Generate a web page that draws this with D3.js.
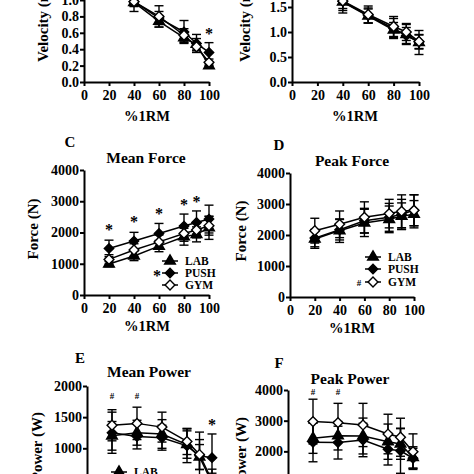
<!DOCTYPE html>
<html>
<head>
<meta charset="utf-8">
<script src="https://d3js.org/d3.v7.min.js"></script>
<style>
  body { margin: 0; background: #fff; }
  svg { display: block; font-family: "Liberation Serif", "Times New Roman", serif; font-weight: bold; }
</style>
</head>
<body>
<svg id="chart" width="474" height="474"></svg>
<script>
// loads (%1RM)
var load5 = [40, 60, 80, 90, 100];
var load6 = [20, 40, 60, 80, 90, 100];
var xTicks = [0, 20, 40, 60, 80, 100];
var groups = ["LAB", "PUSH", "GYM"];

// A - mean velocity (m/s)
var aLab = [0.97, 0.74, 0.54, 0.46, 0.20], aLabSd = [0.11, 0.07, 0.06, 0.07, 0.02];
var aPush = [0.98, 0.78, 0.61, 0.47, 0.36], aPushSd = [0.05, 0.08, 0.14, 0.11, 0.12];
var aGym = [0.98, 0.80, 0.57, 0.43, 0.24], aGymSd = [0.06, 0.13, 0.08, 0.05, 0.04];
var aTicks = [0, 0.2, 0.4, 0.6, 0.8, 1.0, 1.2];

// B - peak velocity (m/s)
var bLab = [1.60, 1.32, 1.04, 0.95, 0.79], bLabSd = [0.22, 0.14, 0.15, 0.20, 0.24];
var bPush = [1.61, 1.33, 1.07, 0.93, 0.80], bPushSd = [0.18, 0.15, 0.20, 0.16, 0.14];
var bGym = [1.62, 1.35, 1.11, 1.00, 0.81], bGymSd = [0.15, 0.17, 0.20, 0.17, 0.14];
var bTicks = [0, 0.5, 1.0, 1.5, 2.0];

// C - mean force (N)
var cLab = [990, 1250, 1565, 1865, 1940, 2150], cLabSd = [80, 150, 180, 270, 240, 370];
var cPush = [1490, 1725, 1970, 2205, 2320, 2430], cPushSd = [265, 280, 320, 385, 370, 445];
var cGym = [1140, 1440, 1700, 1970, 2080, 2215], cGymSd = [150, 200, 220, 250, 250, 300];

// D - peak force (N)
var dLab = [1870, 2140, 2390, 2505, 2605, 2670], dLabSd = [300, 380, 440, 430, 430, 440];
var dPush = [1900, 2170, 2460, 2570, 2670, 2800], dPushSd = [280, 330, 400, 450, 480, 500];
var dGym = [2140, 2345, 2570, 2690, 2765, 2795], dGymSd = [400, 430, 500, 460, 530, 500];
var forceTicks = [0, 1000, 2000, 3000, 4000];

// E - mean power (W)
var eLab = [1200, 1250, 1230, 1060, 860, 450], eLabSd = [230, 200, 230, 220, 200, 150];
var ePush = [1250, 1190, 1170, 1040, 880, 850], ePushSd = [330, 200, 200, 270, 380, 380];
var eGym = [1370, 1400, 1340, 1110, 900, 480], eGymSd = [250, 260, 240, 210, 240, 185];
var eTicks = [0, 500, 1000, 1500, 2000];

// F - peak power (W)
var fLab = [2425, 2510, 2500, 2315, 2240, 1800], fLabSd = [490, 465, 585, 575, 500, 350];
var fPush = [2295, 2285, 2370, 2070, 2020, 1775], fPushSd = [635, 535, 545, 515, 735, 325];
var fGym = [2970, 2935, 2860, 2565, 2460, 1990], fGymSd = [730, 630, 705, 645, 620, 580];
var fTicks = [0, 1000, 2000, 3000, 4000];

// significance marks: [load, value]
var aStars = [[100, 0.61]];
var cStars = [[20, 2160], [40, 2420], [60, 2680], [80, 2950], [90, 3060]];
var eStars = [[100, 1420]];
var eHash = [[20, 1855], [40, 1855]];
var fHash = [[20, 3960], [40, 3960]];

var svg = d3.select("#chart");

var panels = [
  {load: load5, s: [[aLab, aLabSd], [aPush, aPushSd], [aGym, aGymSd]], ticks: aTicks, fmt: d3.format(".1f"),
   xr: [84, 209], yr: [82, -16.4], ylab: "Velocity (m/s)", ylx: 43, lab0: 62, labAnchor: "start",
   xlab: [147, 121], stars: aStars},
  {load: load5, s: [[bLab, bLabSd], [bPush, bPushSd], [bGym, bGymSd]], ticks: bTicks, fmt: d3.format(".1f"),
   xr: [292, 419], yr: [82, -18], ylab: "Velocity (m/s)", ylx: 245, lab0: 62, labAnchor: "start",
   xlab: [355, 121]},
  {load: load6, s: [[cLab, cLabSd], [cPush, cPushSd], [cGym, cGymSd]], ticks: forceTicks, fmt: d3.format("d"),
   xr: [84, 209], yr: [295, 170], ylab: "Force (N)", ylx: 33, lab0: 229, labAnchor: "middle",
   xlab: [147, 331], letter: ["C", 70, 147], title: ["Mean Force", 146, 163], stars: cStars,
   legend: {x: 170, y: [261, 273, 285], mark: ["", "*", ""]}},
  {load: load6, s: [[dLab, dLabSd], [dPush, dPushSd], [dGym, dGymSd]], ticks: forceTicks, fmt: d3.format("d"),
   xr: [290, 414], yr: [297, 173], ylab: "Force (N)", ylx: 241, lab0: 231, labAnchor: "middle",
   xlab: [352, 333], letter: ["D", 279, 150], title: ["Peak Force", 352, 166],
   legend: {x: 373, y: [257, 269, 282], mark: ["", "", "#"]}},
  {load: load6, s: [[eLab, eLabSd], [ePush, ePushSd], [eGym, eGymSd]], ticks: eTicks, fmt: d3.format("d"),
   xr: [87, 212], yr: [510.6, 386], ylab: "Power (W)", ylx: 37, lab0: 412, labAnchor: "end",
   letter: ["E", 80, 363], title: ["Mean Power", 149, 377], stars: eStars, hash: eHash,
   legend: {x: 119, y: [472, 484, 496], mark: ["", "", ""]}},
  {load: load6, s: [[fLab, fLabSd], [fPush, fPushSd], [fGym, fGymSd]], ticks: fTicks, fmt: d3.format("d"),
   xr: [288, 413], yr: [512.7, 390], ylab: "Power (W)", ylx: 241, lab0: 417, labAnchor: "end",
   letter: ["F", 279, 368], title: ["Peak Power", 350, 384], hash: fHash}
];

var shapes = [
  {type: d3.symbolTriangle, size: 50, fill: "#000", rot: 0},
  {type: d3.symbolSquare, size: 44, fill: "#000", rot: 45},
  {type: d3.symbolSquare, size: 48, fill: "#fff", rot: 45}
];

function marker(sel, k) {
  sel.attr("d", d3.symbol().type(shapes[k].type).size(shapes[k].size)())
     .attr("fill", shapes[k].fill)
     .attr("stroke", "#000")
     .attr("stroke-width", 1.4);
}

panels.forEach(function(p) {
  var x = d3.scaleLinear().domain([0, 100]).range(p.xr);
  var y = d3.scaleLinear().domain([0, p.ticks[p.ticks.length - 1]]).range(p.yr);
  var g = svg.append("g");

  var ya = g.append("g").attr("transform", "translate(" + x(0) + ",0)")
    .call(d3.axisLeft(y).tickValues(p.ticks).tickFormat(p.fmt).tickSize(4).tickPadding(1).tickSizeOuter(0));
  var xa = g.append("g").attr("transform", "translate(0," + y(0) + ")")
    .call(d3.axisBottom(x).tickValues(xTicks).tickSize(4).tickPadding(4).tickSizeOuter(0));
  [ya, xa].forEach(function(a) {
    a.attr("font-family", null).attr("font-size", 14);
    a.select(".domain").attr("stroke-width", 2);
    a.selectAll(".tick line").attr("stroke-width", 2);
    a.selectAll(".tick text").attr("fill", "#000");
  });

  // axis titles
  g.append("text")
    .attr("transform", "translate(" + p.ylx + "," + p.lab0 + ") rotate(-90)")
    .attr("dy", "0.35em")
    .attr("text-anchor", p.labAnchor)
    .attr("font-size", 15)
    .text(p.ylab);
  if (p.xlab) {
    g.append("text").attr("x", p.xlab[0]).attr("y", p.xlab[1])
      .attr("text-anchor", "middle").attr("font-size", 14.5).text("%1RM");
  }
  if (p.letter) {
    g.append("text").attr("x", p.letter[1]).attr("y", p.letter[2])
      .attr("text-anchor", "middle").attr("font-size", 15).text(p.letter[0]);
  }
  if (p.title) {
    g.append("text").attr("x", p.title[1]).attr("y", p.title[2])
      .attr("text-anchor", "middle").attr("font-size", 15.5).text(p.title[0]);
  }

  var series = p.s.map(function(s, k) {
    return s[0].map(function(m, i) { return {load: p.load[i], m: m, sd: s[1][i], k: k}; });
  });

  // error bars
  series.forEach(function(pts) {
    var eb = g.append("g").attr("stroke", "#000").attr("stroke-width", 1.4);
    eb.selectAll(".v").data(pts).enter().append("line")
      .attr("x1", function(d) { return x(d.load); }).attr("x2", function(d) { return x(d.load); })
      .attr("y1", function(d) { return y(d.m - d.sd); }).attr("y2", function(d) { return y(d.m + d.sd); });
    [-1, 1].forEach(function(sg) {
      eb.selectAll(".c" + sg).data(pts).enter().append("line")
        .attr("x1", function(d) { return x(d.load) - 4.5; }).attr("x2", function(d) { return x(d.load) + 4.5; })
        .attr("y1", function(d) { return y(d.m + sg * d.sd); }).attr("y2", function(d) { return y(d.m + sg * d.sd); });
    });
  });

  // mean lines
  var line = d3.line().x(function(d) { return x(d.load); }).y(function(d) { return y(d.m); });
  series.forEach(function(pts) {
    g.append("path").datum(pts).attr("d", line)
      .attr("fill", "none").attr("stroke", "#000").attr("stroke-width", 1.5);
  });

  // markers
  series.forEach(function(pts, k) {
    g.selectAll(".m" + k).data(pts).enter().append("path")
      .attr("transform", function(d) { return "translate(" + x(d.load) + "," + y(d.m) + ") rotate(" + shapes[k].rot + ")"; })
      .call(marker, k);
  });

  // significance
  (p.stars || []).forEach(function(s) {
    g.append("text").attr("x", x(s[0])).attr("y", y(s[1]) + 7.5)
      .attr("text-anchor", "middle").attr("font-size", 16).attr("fill", "#000").text("*");
  });
  (p.hash || []).forEach(function(s) {
    g.append("text").attr("x", x(s[0])).attr("y", y(s[1]) + 3.5)
      .attr("text-anchor", "middle").attr("font-size", 9).attr("fill", "#000").text("#");
  });

  // legend
  if (p.legend) {
    var L = p.legend;
    groups.forEach(function(name, k) {
      var ly = L.y[k];
      g.append("line").attr("x1", L.x - 8).attr("x2", L.x + 8).attr("y1", ly).attr("y2", ly)
        .attr("stroke", "#000").attr("stroke-width", 1.5);
      g.append("path").attr("transform", "translate(" + L.x + "," + ly + ") rotate(" + shapes[k].rot + ")")
        .call(marker, k);
      g.append("text").attr("x", L.x + 15).attr("y", ly + 4).attr("font-size", 11.5).text(name);
      if (L.mark[k] === "*") {
        g.append("text").attr("x", L.x - 13).attr("y", ly + 7.5).attr("text-anchor", "middle")
          .attr("font-size", 16).text("*");
      } else if (L.mark[k] === "#") {
        g.append("text").attr("x", L.x - 14).attr("y", ly + 3.5).attr("text-anchor", "middle")
          .attr("font-size", 9).text("#");
      }
    });
  }
});
</script>
</body>
</html>
